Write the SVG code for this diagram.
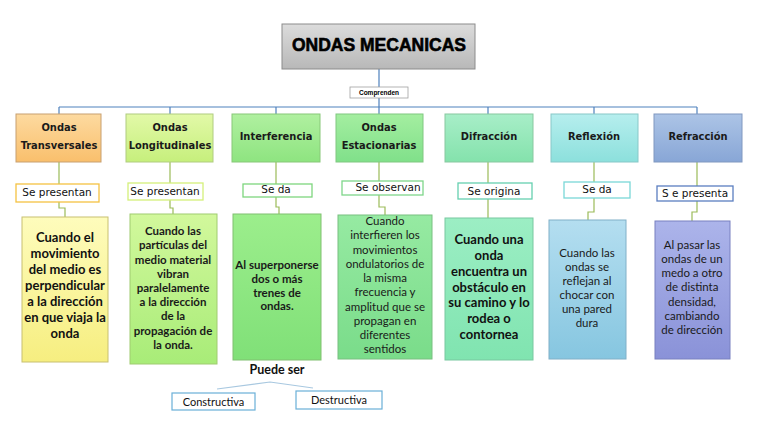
<svg xmlns="http://www.w3.org/2000/svg" width="768" height="433" viewBox="0 0 768 433">
<defs>
<linearGradient id="gTitle" x1="0" y1="0" x2="0" y2="1"><stop offset="0" stop-color="#dcdcdc"/><stop offset="1" stop-color="#b8b8b8"/></linearGradient>
<linearGradient id="gH1" x1="0" y1="0" x2="0" y2="1"><stop offset="0" stop-color="#fddaa0"/><stop offset="1" stop-color="#f9bf6c"/></linearGradient>
<linearGradient id="gH2" x1="0" y1="0" x2="0" y2="1"><stop offset="0" stop-color="#e2f9a8"/><stop offset="1" stop-color="#c6ef7c"/></linearGradient>
<linearGradient id="gH3" x1="0" y1="0" x2="0" y2="1"><stop offset="0" stop-color="#b0f0a0"/><stop offset="1" stop-color="#8ee480"/></linearGradient>
<linearGradient id="gH4" x1="0" y1="0" x2="0" y2="1"><stop offset="0" stop-color="#a4eea0"/><stop offset="1" stop-color="#80e08a"/></linearGradient>
<linearGradient id="gH5" x1="0" y1="0" x2="0" y2="1"><stop offset="0" stop-color="#a8eec8"/><stop offset="1" stop-color="#84e2ac"/></linearGradient>
<linearGradient id="gH6" x1="0" y1="0" x2="0" y2="1"><stop offset="0" stop-color="#b6eeee"/><stop offset="1" stop-color="#8ce0dc"/></linearGradient>
<linearGradient id="gH7" x1="0" y1="0" x2="0" y2="1"><stop offset="0" stop-color="#acc4e6"/><stop offset="1" stop-color="#88a6d6"/></linearGradient>
<linearGradient id="gD1" x1="0" y1="0" x2="0" y2="1"><stop offset="0" stop-color="#fefcbc"/><stop offset="1" stop-color="#f6ee80"/></linearGradient>
<linearGradient id="gD2" x1="0" y1="0" x2="0" y2="1"><stop offset="0" stop-color="#d2f89c"/><stop offset="1" stop-color="#a8ec78"/></linearGradient>
<linearGradient id="gD3" x1="0" y1="0" x2="0" y2="1"><stop offset="0" stop-color="#9cee8c"/><stop offset="1" stop-color="#80e078"/></linearGradient>
<linearGradient id="gD4" x1="0" y1="0" x2="0" y2="1"><stop offset="0" stop-color="#96eaa2"/><stop offset="1" stop-color="#7adc8a"/></linearGradient>
<linearGradient id="gD5" x1="0" y1="0" x2="0" y2="1"><stop offset="0" stop-color="#9ceec4"/><stop offset="1" stop-color="#80e4b0"/></linearGradient>
<linearGradient id="gD6" x1="0" y1="0" x2="0" y2="1"><stop offset="0" stop-color="#b4def0"/><stop offset="1" stop-color="#86c6e0"/></linearGradient>
<linearGradient id="gD7" x1="0" y1="0" x2="0" y2="1"><stop offset="0" stop-color="#acb4ea"/><stop offset="1" stop-color="#8a92d8"/></linearGradient>
</defs>
<style>
.blue{stroke:#4f81bd;stroke-width:1.2;fill:none}
.grn{stroke:#9bbb59;stroke-width:1.2;fill:none}
.lb{stroke:#a8c8e0;stroke-width:1.2;fill:none}
.hdr{font-family:"DejaVu Sans Condensed","DejaVu Sans",sans-serif;font-weight:bold;font-size:11px;fill:#1a1a1a;text-anchor:middle}
.lbl{font-family:"DejaVu Sans",sans-serif;font-size:10.5px;fill:#111;text-anchor:middle}
.lblbox{fill:#fff;stroke-width:1.3}
.det{font-family:Lato,"Liberation Sans",sans-serif;font-size:11.5px;fill:#1a1a1a;text-anchor:middle}
.detb{font-family:Lato,"Liberation Sans",sans-serif;font-size:13px;font-weight:bold;fill:#111;text-anchor:middle}
.sel{font-family:Lato,"Liberation Sans",sans-serif;font-size:11px;fill:#111;text-anchor:middle}
</style>

<g id="connectors">
<path class="blue" d="M379,69 V87 M379,98 V107 M59,107 H697 M59,107 V114 M170,107 V114 M276,107 V114 M379,107 V114 M488,107 V114 M594,107 V114 M697,107 V114"/>
<path class="grn" d="M59,162 V184 M59,202 V208 H65 V217"/>
<path class="grn" d="M170,162 V183 M170,200 V208 H173 V214"/>
<path class="grn" d="M276,162 V184 M276,197 V207 H279 V214"/>
<path class="grn" d="M379,162 V181 M379,195 V207 H385 V215"/>
<path class="grn" d="M488,162 V183 M488,199 V218"/>
<path class="grn" d="M594,162 V182 M594,198 V212 H588 V220"/>
<path class="grn" d="M697,162 V186 M697,201 V212 H692 V221"/>
<path class="lb" d="M217,389 L270,382 L313,388"/>
</g>

<g id="title">
<rect x="282" y="24" width="193" height="45" fill="url(#gTitle)" stroke="#8c8c8c" stroke-width="1"/>
<text x="379" y="51" font-family="Liberation Sans,Arial,sans-serif" font-weight="bold" font-size="17.5" text-anchor="middle" fill="#000" stroke="#000" stroke-width="0.6">ONDAS MECANICAS</text>
</g>
<g id="comprenden">
<rect x="350" y="87" width="58" height="11" fill="#fff" stroke="#a0a0a0" stroke-width="0.8"/>
<text x="379" y="95" font-family="Liberation Sans,Arial,sans-serif" font-weight="bold" font-size="6.5" text-anchor="middle" fill="#000">Comprenden</text>
</g>

<g id="h1"><rect x="16" y="114" width="85" height="48" fill="url(#gH1)" stroke="#c8a070"/><text class="hdr" x="59" y="131">Ondas</text><text class="hdr" x="59" y="149">Transversales</text></g>
<g id="h2"><rect x="126" y="114" width="87" height="48" fill="url(#gH2)" stroke="#b0cc80"/><text class="hdr" x="170" y="131">Ondas</text><text class="hdr" x="170" y="149">Longitudinales</text></g>
<g id="h3"><rect x="232" y="114" width="88" height="48" fill="url(#gH3)" stroke="#88c878"/><text class="hdr" x="276" y="140">Interferencia</text></g>
<g id="h4"><rect x="336" y="114" width="87" height="48" fill="url(#gH4)" stroke="#80c880"/><text class="hdr" x="379" y="131">Ondas</text><text class="hdr" x="379" y="149">Estacionarias</text></g>
<g id="h5"><rect x="445" y="114" width="88" height="48" fill="url(#gH5)" stroke="#88c8a0"/><text class="hdr" x="489" y="140">Difracción</text></g>
<g id="h6"><rect x="551" y="114" width="87" height="48" fill="url(#gH6)" stroke="#88c8c8"/><text class="hdr" x="594" y="140">Reflexión</text></g>
<g id="h7"><rect x="654" y="114" width="88" height="48" fill="url(#gH7)" stroke="#8098c0"/><text class="hdr" x="698" y="140">Refracción</text></g>

<g id="l1"><rect class="lblbox" x="16" y="184" width="83" height="18" stroke="#f5c242"/><text class="lbl" x="57" y="196">Se presentan</text></g>
<g id="l2"><rect class="lblbox" x="128" y="183" width="75" height="17" stroke="#d4f07a"/><text class="lbl" x="165" y="195">Se presentan</text></g>
<g id="l3"><rect class="lblbox" x="243" y="184" width="69" height="13" stroke="#7ed67e"/><text class="lbl" x="276" y="193">Se da</text></g>
<g id="l4"><rect class="lblbox" x="342" y="181" width="81" height="14" stroke="#7ed68a"/><text class="lbl" x="388" y="191">Se observan</text></g>
<g id="l5"><rect class="lblbox" x="458" y="183" width="74" height="16" stroke="#66d0b0"/><text class="lbl" x="494" y="195">Se origina</text></g>
<g id="l6"><rect class="lblbox" x="564" y="182" width="66" height="16" stroke="#7ad8d8"/><text class="lbl" x="597" y="193">Se da</text></g>
<g id="l7"><rect class="lblbox" x="657" y="186" width="76" height="15" stroke="#5b7ec0"/><text class="lbl" x="695" y="197">S e presenta</text></g>

<g id="d1"><rect x="22" y="217" width="86" height="145" fill="url(#gD1)" stroke="#c8c070"/>
<text class="detb" x="65"><tspan x="65" y="242">Cuando el</tspan><tspan x="65" y="258">movimiento</tspan><tspan x="65" y="274">del medio es</tspan><tspan x="65" y="290">perpendicular</tspan><tspan x="65" y="306">a la dirección</tspan><tspan x="65" y="322">en que viaja la</tspan><tspan x="65" y="338">onda</tspan></text></g>
<g id="d2"><rect x="130" y="214" width="87" height="150" fill="url(#gD2)" stroke="#a0cc70"/>
<text class="det" font-weight="bold" x="173"><tspan x="173" y="235">Cuando las</tspan><tspan x="173" y="249">partículas del</tspan><tspan x="173" y="263.5">medio material</tspan><tspan x="173" y="277.5">vibran</tspan><tspan x="173" y="292">paralelamente</tspan><tspan x="173" y="306">a la dirección</tspan><tspan x="173" y="320">de la</tspan><tspan x="173" y="334.5">propagación de</tspan><tspan x="173" y="348.5">la onda.</tspan></text></g>
<g id="d3"><rect x="233" y="214" width="88" height="146" fill="url(#gD3)" stroke="#80c070"/>
<text class="det" font-weight="bold" x="277"><tspan x="277" y="269">Al superponerse</tspan><tspan x="277" y="283">dos o más</tspan><tspan x="277" y="296.5">trenes de</tspan><tspan x="277" y="310">ondas.</tspan></text></g>
<g id="d4"><rect x="338" y="215" width="94" height="144" fill="url(#gD4)" stroke="#78c080"/>
<text class="det" x="385"><tspan x="385" y="225">Cuando</tspan><tspan x="385" y="239">interfieren los</tspan><tspan x="385" y="253.5">movimientos</tspan><tspan x="385" y="268">ondulatorios de</tspan><tspan x="385" y="282">la misma</tspan><tspan x="385" y="296">frecuencia y</tspan><tspan x="385" y="310.5">amplitud que se</tspan><tspan x="385" y="324.5">propagan en</tspan><tspan x="385" y="338.5">diferentes</tspan><tspan x="385" y="353">sentidos</tspan></text></g>
<g id="d5"><rect x="445" y="218" width="88" height="142" fill="url(#gD5)" stroke="#78c8a0"/>
<text class="detb" x="489"><tspan x="489" y="244">Cuando una</tspan><tspan x="489" y="260">onda</tspan><tspan x="489" y="276">encuentra un</tspan><tspan x="489" y="292">obstáculo en</tspan><tspan x="489" y="307">su camino y lo</tspan><tspan x="489" y="323">rodea o</tspan><tspan x="489" y="339">contornea</tspan></text></g>
<g id="d6"><rect x="549" y="220" width="77" height="139" fill="url(#gD6)" stroke="#80b0c8"/>
<text class="det" x="587"><tspan x="587" y="257">Cuando las</tspan><tspan x="587" y="271">ondas se</tspan><tspan x="587" y="285">reflejan al</tspan><tspan x="587" y="299">chocar con</tspan><tspan x="587" y="313">una pared</tspan><tspan x="587" y="327">dura</tspan></text></g>
<g id="d7"><rect x="655" y="221" width="75" height="138" fill="url(#gD7)" stroke="#7880c0"/>
<text class="det" x="692"><tspan x="692" y="249">Al pasar las</tspan><tspan x="692" y="263">ondas de un</tspan><tspan x="692" y="277">medo a otro</tspan><tspan x="692" y="291">de distinta</tspan><tspan x="692" y="305.5">densidad,</tspan><tspan x="692" y="320">cambiando</tspan><tspan x="692" y="334">de dirección</tspan></text></g>

<g id="puede"><text x="277" y="374" font-family="Lato,Liberation Sans,sans-serif" font-weight="bold" font-size="12.5" text-anchor="middle" fill="#111">Puede ser</text></g>
<g id="constructiva"><rect x="172" y="393" width="83" height="17" fill="#fff" stroke="#6ab0d8" stroke-width="1.2"/><text class="sel" x="213.5" y="405.5">Constructiva</text></g>
<g id="destructiva"><rect x="296" y="391" width="86" height="18" fill="#fff" stroke="#6ab0d8" stroke-width="1.2"/><text class="sel" x="339" y="403.5">Destructiva</text></g>
</svg>
